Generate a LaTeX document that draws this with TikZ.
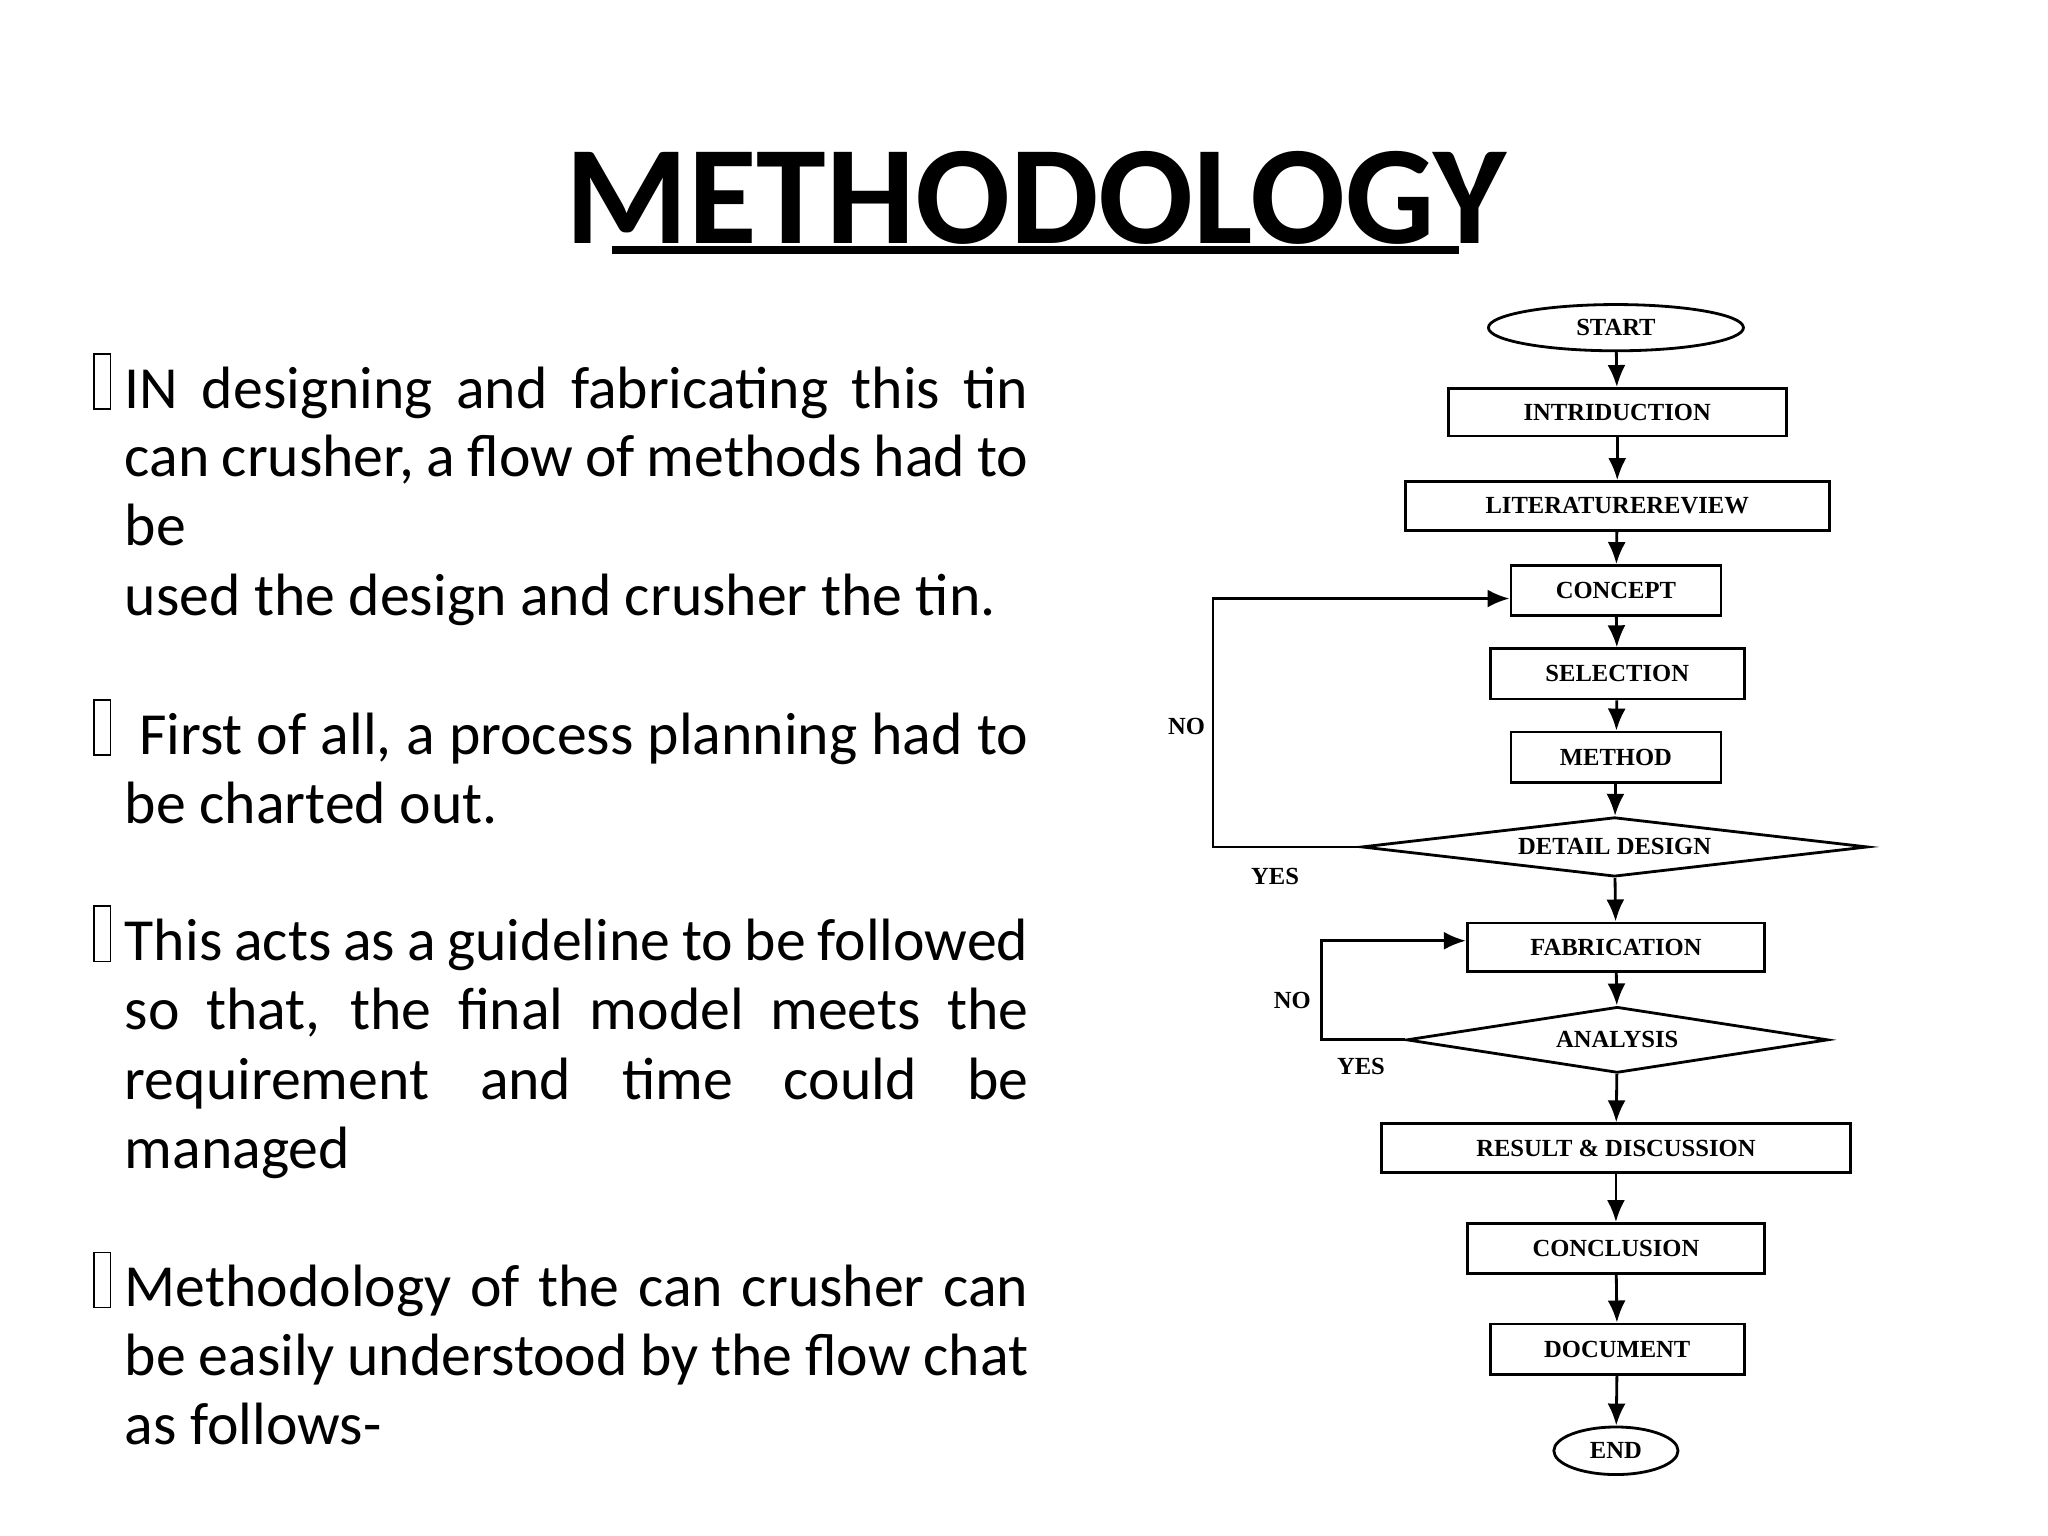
\documentclass[tikz,border=0pt]{standalone}
\usepackage{fontspec}
\setmainfont{Carlito}
\newfontfamily\chartfont{Liberation Serif}
\usetikzlibrary{shapes.geometric,arrows.meta}
\tikzset{
  box/.style 2 args={draw, thick, rectangle, minimum width={#1*0.01321cm}, minimum height={#2*0.01321cm}, inner sep=0pt, font=\chartfont\bfseries\fontsize{7}{8}\selectfont},
  oval/.style 2 args={box={#1}{#2}, ellipse},
  dia/.style 2 args={box={#1}{#2}, diamond, aspect=8},
  flow/.style={thick, -{Latex[length=2.2mm,width=1.8mm]}},
  lab/.style={font=\chartfont\bfseries\fontsize{7}{8}\selectfont},
  line/.style={anchor=base west, inner sep=0pt, font=\fontsize{17}{20}\selectfont},
  bul/.style={anchor=base west, inner sep=0pt, font=\fontsize{17}{20}\selectfont}
}
\newcommand{\jline}[1]{\makebox[9.036cm][s]{#1}}
\newcommand{\tofu}{\fbox{\rule{0pt}{0.9em}\hspace{0.25em}}}
\begin{document}
\begin{tikzpicture}[x=0.01321cm, y=-0.01321cm]
\useasboundingbox (0,0) rectangle (1550,1162);
% title
\node[font=\bfseries\fontsize{40}{44}\selectfont, inner sep=0pt] (title) at (784,150) {METHODOLOGY};
\draw[line width=2.2pt] (463,189) -- (1104,189);
% text
\setlength{\fboxsep}{0pt}\setlength{\fboxrule}{0.4pt}
\node[bul] (b1) at (70,309) {\tofu};
\node[line] (t11) at (94,309) {\jline{IN designing and fabricating this tin}};
\node[line] (t12) at (94,361) {\jline{can crusher, a flow of methods had to}};
\node[line] (t13) at (94,413) {be};
\node[line] (t14) at (94,466) {used the design and crusher the tin.};
\node[bul] (b2) at (70,571) {\tofu};
\node[line] (t21) at (94,571) {\jline{\ First of all, a process planning had to}};
\node[line] (t22) at (94,623) {be charted out.};
\node[bul] (b3) at (70,727) {\tofu};
\node[line] (t31) at (94,727) {\jline{This acts as a guideline to be followed}};
\node[line] (t32) at (94,779) {\jline{so that, the final model meets the}};
\node[line] (t33) at (94,832) {\jline{requirement and time could be}};
\node[line] (t34) at (94,884) {managed};
\node[bul] (b4) at (70,989) {\tofu};
\node[line] (t41) at (94,989) {\jline{Methodology of the can crusher can}};
\node[line] (t42) at (94,1041) {\jline{be easily understood by the flow chat}};
\node[line] (t43) at (94,1093) {as follows-};
% flowchart
\node[oval={193}{35}] (start) at (1223,248) {START};
\node[box={256}{36}] (intro) at (1224,312) {INTRIDUCTION};
\node[box={321}{37}] (lit) at (1224,383) {LITERATUREREVIEW};
\node[box={159}{38}] (concept) at (1223,447) {CONCEPT};
\node[box={192}{38}] (sel) at (1224,510) {SELECTION};
\node[box={159}{38}] (meth) at (1223,573) {METHOD};
\node[dia={383}{45}] (detail) at (1222,641) {DETAIL DESIGN};
\node[box={225}{37}] (fab) at (1223,717) {FABRICATION};
\node[dia={319}{50}] (ana) at (1224,787) {ANALYSIS};
\node[box={355}{37}] (res) at (1223,869) {RESULT \& DISCUSSION};
\node[box={225}{38}] (conc) at (1223,945) {CONCLUSION};
\node[box={192}{38}] (doc) at (1224,1021) {DOCUMENT};
\node[oval={94}{36}] (end) at (1223,1098) {END};
\draw[flow] (start) -- (intro);
\draw[flow] (intro) -- (lit);
\draw[flow] (lit) -- (concept);
\draw[flow] (concept) -- (sel);
\draw[flow] (sel) -- (meth);
\draw[flow] (meth) -- (detail);
\draw[flow] (detail) -- (fab);
\draw[flow] (fab) -- (ana);
\draw[flow] (ana) -- (res);
\draw[flow] (res) -- (conc);
\draw[flow] (conc) -- (doc);
\draw[flow] (doc) -- (end);
\draw[flow] (detail.west) -| (918,453) -- (concept.west |- 0,453);
\draw[flow] (ana.west) -| (1000,712) -- (fab.west |- 0,712);
\node[lab] (no1) at (898,550) {NO};
\node[lab] (yes1) at (965,663) {YES};
\node[lab] (no2) at (978,757) {NO};
\node[lab] (yes2) at (1030,807) {YES};
\end{tikzpicture}
\end{document}
